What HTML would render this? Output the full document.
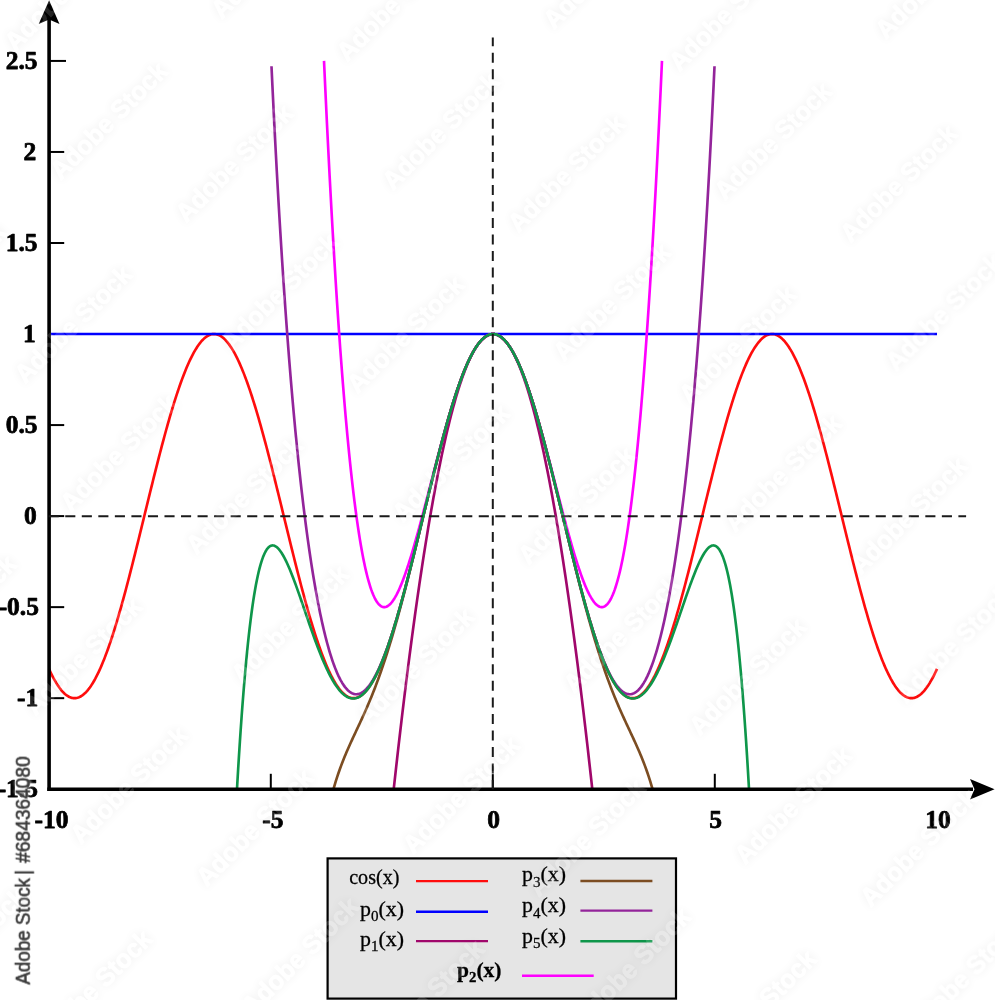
<!DOCTYPE html>
<html><head><meta charset="utf-8"><title>Taylor polynomials of cos(x)</title>
<style>html,body{margin:0;padding:0;background:#fff}svg{display:block}</style></head>
<body>
<svg width="995" height="1000" viewBox="0 0 995 1000">
<defs><g id="wmt" font-family="'Liberation Sans', sans-serif" font-weight="bold" font-size="26px" fill="#fff" stroke="#fff" stroke-width="0.9" stroke-linejoin="round" text-anchor="middle"><text transform="translate(-61.2,-49.1) rotate(-45)" y="7" textLength="153" lengthAdjust="spacingAndGlyphs">Adobe Stock</text><text transform="translate(64.4,-6.7) rotate(-45)" y="7" textLength="153" lengthAdjust="spacingAndGlyphs">Adobe Stock</text><text transform="translate(-51.1,283.0) rotate(-45)" y="7" textLength="153" lengthAdjust="spacingAndGlyphs">Adobe Stock</text><text transform="translate(110.0,122.0) rotate(-45)" y="7" textLength="153" lengthAdjust="spacingAndGlyphs">Adobe Stock</text><text transform="translate(271.0,-39.0) rotate(-45)" y="7" textLength="153" lengthAdjust="spacingAndGlyphs">Adobe Stock</text><text transform="translate(74.5,325.4) rotate(-45)" y="7" textLength="153" lengthAdjust="spacingAndGlyphs">Adobe Stock</text><text transform="translate(235.5,164.4) rotate(-45)" y="7" textLength="153" lengthAdjust="spacingAndGlyphs">Adobe Stock</text><text transform="translate(396.5,3.4) rotate(-45)" y="7" textLength="153" lengthAdjust="spacingAndGlyphs">Adobe Stock</text><text transform="translate(-40.9,615.1) rotate(-45)" y="7" textLength="153" lengthAdjust="spacingAndGlyphs">Adobe Stock</text><text transform="translate(120.1,454.1) rotate(-45)" y="7" textLength="153" lengthAdjust="spacingAndGlyphs">Adobe Stock</text><text transform="translate(281.1,293.1) rotate(-45)" y="7" textLength="153" lengthAdjust="spacingAndGlyphs">Adobe Stock</text><text transform="translate(442.1,132.1) rotate(-45)" y="7" textLength="153" lengthAdjust="spacingAndGlyphs">Adobe Stock</text><text transform="translate(603.1,-28.9) rotate(-45)" y="7" textLength="153" lengthAdjust="spacingAndGlyphs">Adobe Stock</text><text transform="translate(84.6,657.5) rotate(-45)" y="7" textLength="153" lengthAdjust="spacingAndGlyphs">Adobe Stock</text><text transform="translate(245.6,496.5) rotate(-45)" y="7" textLength="153" lengthAdjust="spacingAndGlyphs">Adobe Stock</text><text transform="translate(406.7,335.5) rotate(-45)" y="7" textLength="153" lengthAdjust="spacingAndGlyphs">Adobe Stock</text><text transform="translate(567.7,174.5) rotate(-45)" y="7" textLength="153" lengthAdjust="spacingAndGlyphs">Adobe Stock</text><text transform="translate(728.7,13.5) rotate(-45)" y="7" textLength="153" lengthAdjust="spacingAndGlyphs">Adobe Stock</text><text transform="translate(-30.8,947.2) rotate(-45)" y="7" textLength="153" lengthAdjust="spacingAndGlyphs">Adobe Stock</text><text transform="translate(130.2,786.2) rotate(-45)" y="7" textLength="153" lengthAdjust="spacingAndGlyphs">Adobe Stock</text><text transform="translate(291.2,625.2) rotate(-45)" y="7" textLength="153" lengthAdjust="spacingAndGlyphs">Adobe Stock</text><text transform="translate(452.2,464.2) rotate(-45)" y="7" textLength="153" lengthAdjust="spacingAndGlyphs">Adobe Stock</text><text transform="translate(613.2,303.2) rotate(-45)" y="7" textLength="153" lengthAdjust="spacingAndGlyphs">Adobe Stock</text><text transform="translate(774.2,142.2) rotate(-45)" y="7" textLength="153" lengthAdjust="spacingAndGlyphs">Adobe Stock</text><text transform="translate(935.2,-18.8) rotate(-45)" y="7" textLength="153" lengthAdjust="spacingAndGlyphs">Adobe Stock</text><text transform="translate(94.8,989.7) rotate(-45)" y="7" textLength="153" lengthAdjust="spacingAndGlyphs">Adobe Stock</text><text transform="translate(255.8,828.7) rotate(-45)" y="7" textLength="153" lengthAdjust="spacingAndGlyphs">Adobe Stock</text><text transform="translate(416.8,667.7) rotate(-45)" y="7" textLength="153" lengthAdjust="spacingAndGlyphs">Adobe Stock</text><text transform="translate(577.8,506.6) rotate(-45)" y="7" textLength="153" lengthAdjust="spacingAndGlyphs">Adobe Stock</text><text transform="translate(738.8,345.6) rotate(-45)" y="7" textLength="153" lengthAdjust="spacingAndGlyphs">Adobe Stock</text><text transform="translate(899.8,184.6) rotate(-45)" y="7" textLength="153" lengthAdjust="spacingAndGlyphs">Adobe Stock</text><text transform="translate(1060.8,23.6) rotate(-45)" y="7" textLength="153" lengthAdjust="spacingAndGlyphs">Adobe Stock</text><text transform="translate(301.3,957.4) rotate(-45)" y="7" textLength="153" lengthAdjust="spacingAndGlyphs">Adobe Stock</text><text transform="translate(462.3,796.3) rotate(-45)" y="7" textLength="153" lengthAdjust="spacingAndGlyphs">Adobe Stock</text><text transform="translate(623.3,635.3) rotate(-45)" y="7" textLength="153" lengthAdjust="spacingAndGlyphs">Adobe Stock</text><text transform="translate(784.3,474.3) rotate(-45)" y="7" textLength="153" lengthAdjust="spacingAndGlyphs">Adobe Stock</text><text transform="translate(945.3,313.3) rotate(-45)" y="7" textLength="153" lengthAdjust="spacingAndGlyphs">Adobe Stock</text><text transform="translate(426.9,999.8) rotate(-45)" y="7" textLength="153" lengthAdjust="spacingAndGlyphs">Adobe Stock</text><text transform="translate(587.9,838.8) rotate(-45)" y="7" textLength="153" lengthAdjust="spacingAndGlyphs">Adobe Stock</text><text transform="translate(748.9,677.8) rotate(-45)" y="7" textLength="153" lengthAdjust="spacingAndGlyphs">Adobe Stock</text><text transform="translate(909.9,516.8) rotate(-45)" y="7" textLength="153" lengthAdjust="spacingAndGlyphs">Adobe Stock</text><text transform="translate(633.4,967.5) rotate(-45)" y="7" textLength="153" lengthAdjust="spacingAndGlyphs">Adobe Stock</text><text transform="translate(794.4,806.5) rotate(-45)" y="7" textLength="153" lengthAdjust="spacingAndGlyphs">Adobe Stock</text><text transform="translate(955.4,645.4) rotate(-45)" y="7" textLength="153" lengthAdjust="spacingAndGlyphs">Adobe Stock</text><text transform="translate(759.0,1009.9) rotate(-45)" y="7" textLength="153" lengthAdjust="spacingAndGlyphs">Adobe Stock</text><text transform="translate(920.0,848.9) rotate(-45)" y="7" textLength="153" lengthAdjust="spacingAndGlyphs">Adobe Stock</text><text transform="translate(965.6,977.6) rotate(-45)" y="7" textLength="153" lengthAdjust="spacingAndGlyphs">Adobe Stock</text></g></defs>
<defs><filter id="wm" x="0" y="0" width="995" height="1000" filterUnits="userSpaceOnUse"><feGaussianBlur in="SourceAlpha" stdDeviation="5" result="b"/><feComponentTransfer in="b" result="sh"><feFuncA type="linear" slope="0.062"/></feComponentTransfer><feComposite in="sh" in2="SourceAlpha" operator="out"/></filter><filter id="ga" x="-5%" y="-5%" width="110%" height="110%"><feOffset dx="0" dy="0"/></filter><filter id="glow" x="-30%" y="-30%" width="160%" height="160%"><feGaussianBlur stdDeviation="1.6"/></filter></defs>
<rect width="995" height="1000" fill="#fff"/>
<g stroke="#000" fill="none">
<path d="M49.1,60.93 L66,60.93" stroke-width="2"/>
<path d="M49.1,151.96 L64.2,151.96" stroke-width="2"/>
<path d="M49.1,243.00 L64.2,243.00" stroke-width="2"/>
<path d="M49.1,334.03 L64.2,334.03" stroke-width="2"/>
<path d="M49.1,425.07 L64.2,425.07" stroke-width="2"/>
<path d="M49.1,516.10 L64.2,516.10" stroke-width="2"/>
<path d="M49.1,607.13 L64.2,607.13" stroke-width="2"/>
<path d="M49.1,698.17 L64.2,698.17" stroke-width="2"/>
<path d="M270.80,789.3 L270.80,773.8" stroke-width="2"/>
<path d="M492.80,789.3 L492.80,773.8" stroke-width="2"/>
<path d="M714.80,789.3 L714.80,773.8" stroke-width="2"/>
</g>
<g fill="none" stroke-width="2.65" stroke-linejoin="round">
<path d="M49.00,668.87 L49.89,670.82 L50.78,672.71 L51.66,674.53 L52.55,676.30 L53.44,678.00 L54.33,679.63 L55.22,681.20 L56.10,682.70 L56.99,684.13 L57.88,685.50 L58.77,686.80 L59.66,688.04 L60.54,689.20 L61.43,690.29 L62.32,691.32 L63.21,692.27 L64.10,693.16 L64.98,693.97 L65.87,694.71 L66.76,695.38 L67.65,695.98 L68.54,696.51 L69.42,696.96 L70.31,697.35 L71.20,697.66 L72.09,697.89 L72.98,698.06 L73.86,698.15 L74.75,698.17 L75.64,698.11 L76.53,697.99 L77.42,697.79 L78.30,697.52 L79.19,697.17 L80.08,696.75 L80.97,696.27 L81.86,695.70 L82.74,695.07 L83.63,694.37 L84.52,693.59 L85.41,692.74 L86.30,691.82 L87.18,690.84 L88.07,689.78 L88.96,688.65 L89.85,687.46 L90.74,686.19 L91.62,684.86 L92.51,683.46 L93.40,681.99 L94.29,680.46 L95.18,678.86 L96.06,677.19 L96.95,675.46 L97.84,673.67 L98.73,671.81 L99.62,669.90 L100.50,667.92 L101.39,665.88 L102.28,663.78 L103.17,661.62 L104.06,659.40 L104.94,657.12 L105.83,654.79 L106.72,652.41 L107.61,649.96 L108.50,647.47 L109.38,644.92 L110.27,642.32 L111.16,639.67 L112.05,636.98 L112.94,634.23 L113.82,631.43 L114.71,628.59 L115.60,625.71 L116.49,622.78 L117.38,619.81 L118.26,616.79 L119.15,613.74 L120.04,610.65 L120.93,607.52 L121.82,604.35 L122.70,601.15 L123.59,597.91 L124.48,594.64 L125.37,591.34 L126.26,588.01 L127.14,584.65 L128.03,581.26 L128.92,577.85 L129.81,574.41 L130.70,570.95 L131.58,567.47 L132.47,563.96 L133.36,560.44 L134.25,556.90 L135.14,553.34 L136.02,549.77 L136.91,546.19 L137.80,542.59 L138.69,538.98 L139.58,535.37 L140.46,531.74 L141.35,528.11 L142.24,524.48 L143.13,520.84 L144.02,517.20 L144.90,513.55 L145.79,509.91 L146.68,506.28 L147.57,502.64 L148.46,499.01 L149.34,495.39 L150.23,491.78 L151.12,488.18 L152.01,484.58 L152.90,481.00 L153.78,477.44 L154.67,473.89 L155.56,470.35 L156.45,466.84 L157.34,463.34 L158.22,459.87 L159.11,456.42 L160.00,452.99 L160.89,449.59 L161.78,446.21 L162.66,442.86 L163.55,439.54 L164.44,436.25 L165.33,433.00 L166.22,429.77 L167.10,426.59 L167.99,423.43 L168.88,420.32 L169.77,417.24 L170.66,414.20 L171.54,411.20 L172.43,408.25 L173.32,405.34 L174.21,402.47 L175.10,399.65 L175.98,396.87 L176.87,394.14 L177.76,391.46 L178.65,388.84 L179.54,386.26 L180.42,383.73 L181.31,381.26 L182.20,378.84 L183.09,376.47 L183.98,374.16 L184.86,371.91 L185.75,369.72 L186.64,367.58 L187.53,365.50 L188.42,363.49 L189.30,361.53 L190.19,359.64 L191.08,357.81 L191.97,356.04 L192.86,354.34 L193.74,352.70 L194.63,351.13 L195.52,349.62 L196.41,348.18 L197.30,346.80 L198.18,345.50 L199.07,344.26 L199.96,343.09 L200.85,341.99 L201.74,340.96 L202.62,340.00 L203.51,339.11 L204.40,338.29 L205.29,337.54 L206.18,336.87 L207.06,336.26 L207.95,335.73 L208.84,335.27 L209.73,334.88 L210.62,334.57 L211.50,334.32 L212.39,334.15 L213.28,334.06 L214.17,334.03 L215.06,334.08 L215.94,334.20 L216.83,334.39 L217.72,334.66 L218.61,335.00 L219.50,335.41 L220.38,335.89 L221.27,336.45 L222.16,337.08 L223.05,337.78 L223.94,338.55 L224.82,339.39 L225.71,340.30 L226.60,341.28 L227.49,342.33 L228.38,343.46 L229.26,344.65 L230.15,345.91 L231.04,347.23 L231.93,348.63 L232.82,350.09 L233.70,351.62 L234.59,353.21 L235.48,354.87 L236.37,356.60 L237.26,358.39 L238.14,360.24 L239.03,362.15 L239.92,364.12 L240.81,366.16 L241.70,368.25 L242.58,370.41 L243.47,372.62 L244.36,374.89 L245.25,377.22 L246.14,379.60 L247.02,382.04 L247.91,384.53 L248.80,387.07 L249.69,389.67 L250.58,392.31 L251.46,395.01 L252.35,397.75 L253.24,400.54 L254.13,403.38 L255.02,406.26 L255.90,409.19 L256.79,412.15 L257.68,415.17 L258.57,418.22 L259.46,421.31 L260.34,424.43 L261.23,427.60 L262.12,430.80 L263.01,434.03 L263.90,437.30 L264.78,440.60 L265.67,443.92 L266.56,447.28 L267.45,450.67 L268.34,454.08 L269.22,457.51 L270.11,460.97 L271.00,464.45 L271.89,467.96 L272.78,471.48 L273.66,475.02 L274.55,478.57 L275.44,482.14 L276.33,485.73 L277.22,489.32 L278.10,492.93 L278.99,496.55 L279.88,500.17 L280.77,503.80 L281.66,507.43 L282.54,511.07 L283.43,514.71 L284.32,518.36 L285.21,522.00 L286.10,525.63 L286.98,529.27 L287.87,532.90 L288.76,536.52 L289.65,540.13 L290.54,543.74 L291.42,547.33 L292.31,550.91 L293.20,554.48 L294.09,558.03 L294.98,561.57 L295.86,565.08 L296.75,568.58 L297.64,572.06 L298.53,575.51 L299.42,578.94 L300.30,582.34 L301.19,585.72 L302.08,589.07 L302.97,592.39 L303.86,595.69 L304.74,598.94 L305.63,602.17 L306.52,605.36 L307.41,608.52 L308.30,611.64 L309.18,614.72 L310.07,617.76 L310.96,620.76 L311.85,623.72 L312.74,626.63 L313.62,629.50 L314.51,632.33 L315.40,635.11 L316.29,637.84 L317.18,640.52 L318.06,643.16 L318.95,645.74 L319.84,648.27 L320.73,650.75 L321.62,653.17 L322.50,655.54 L323.39,657.85 L324.28,660.11 L325.17,662.31 L326.06,664.45 L326.94,666.53 L327.83,668.55 L328.72,670.51 L329.61,672.41 L330.50,674.25 L331.38,676.02 L332.27,677.73 L333.16,679.37 L334.05,680.95 L334.94,682.46 L335.82,683.91 L336.71,685.29 L337.60,686.60 L338.49,687.84 L339.38,689.02 L340.26,690.12 L341.15,691.16 L342.04,692.12 L342.93,693.02 L343.82,693.84 L344.70,694.60 L345.59,695.28 L346.48,695.89 L347.37,696.43 L348.26,696.90 L349.14,697.29 L350.03,697.61 L350.92,697.86 L351.81,698.04 L352.70,698.14 L353.58,698.17 L354.47,698.13 L355.36,698.01 L356.25,697.82 L357.14,697.56 L358.02,697.23 L358.91,696.83 L359.80,696.35 L360.69,695.80 L361.58,695.18 L362.46,694.48 L363.35,693.72 L364.24,692.88 L365.13,691.98 L366.02,691.00 L366.90,689.95 L367.79,688.84 L368.68,687.65 L369.57,686.40 L370.46,685.07 L371.34,683.68 L372.23,682.23 L373.12,680.70 L374.01,679.12 L374.90,677.46 L375.78,675.74 L376.67,673.96 L377.56,672.11 L378.45,670.21 L379.34,668.24 L380.22,666.20 L381.11,664.11 L382.00,661.96 L382.89,659.76 L383.78,657.49 L384.66,655.17 L385.55,652.79 L386.44,650.36 L387.33,647.87 L388.22,645.33 L389.10,642.74 L389.99,640.10 L390.88,637.41 L391.77,634.67 L392.66,631.88 L393.54,629.05 L394.43,626.17 L395.32,623.25 L396.21,620.28 L397.10,617.28 L397.98,614.23 L398.87,611.14 L399.76,608.02 L400.65,604.86 L401.54,601.66 L402.42,598.43 L403.31,595.16 L404.20,591.87 L405.09,588.54 L405.98,585.19 L406.86,581.80 L407.75,578.40 L408.64,574.96 L409.53,571.50 L410.42,568.02 L411.30,564.52 L412.19,561.00 L413.08,557.47 L413.97,553.91 L414.86,550.34 L415.74,546.76 L416.63,543.16 L417.52,539.56 L418.41,535.94 L419.30,532.32 L420.18,528.69 L421.07,525.05 L421.96,521.42 L422.85,517.78 L423.74,514.13 L424.62,510.49 L425.51,506.86 L426.40,503.22 L427.29,499.59 L428.18,495.97 L429.06,492.35 L429.95,488.75 L430.84,485.15 L431.73,481.57 L432.62,478.00 L433.50,474.45 L434.39,470.91 L435.28,467.40 L436.17,463.90 L437.06,460.42 L437.94,456.96 L438.83,453.53 L439.72,450.13 L440.61,446.75 L441.50,443.39 L442.38,440.07 L443.27,436.78 L444.16,433.51 L445.05,430.29 L445.94,427.09 L446.82,423.93 L447.71,420.81 L448.60,417.73 L449.49,414.68 L450.38,411.68 L451.26,408.72 L452.15,405.80 L453.04,402.92 L453.93,400.09 L454.82,397.31 L455.70,394.58 L456.59,391.89 L457.48,389.25 L458.37,386.66 L459.26,384.13 L460.14,381.65 L461.03,379.22 L461.92,376.85 L462.81,374.53 L463.70,372.27 L464.58,370.06 L465.47,367.92 L466.36,365.83 L467.25,363.81 L468.14,361.84 L469.02,359.94 L469.91,358.10 L470.80,356.32 L471.69,354.60 L472.58,352.96 L473.46,351.37 L474.35,349.85 L475.24,348.40 L476.13,347.02 L477.02,345.70 L477.90,344.45 L478.79,343.27 L479.68,342.16 L480.57,341.12 L481.46,340.15 L482.34,339.25 L483.23,338.42 L484.12,337.66 L485.01,336.97 L485.90,336.36 L486.78,335.81 L487.67,335.34 L488.56,334.94 L489.45,334.61 L490.34,334.36 L491.22,334.18 L492.11,334.07 L493.00,334.03 L493.89,334.07 L494.78,334.18 L495.66,334.36 L496.55,334.61 L497.44,334.94 L498.33,335.34 L499.22,335.81 L500.10,336.36 L500.99,336.97 L501.88,337.66 L502.77,338.42 L503.66,339.25 L504.54,340.15 L505.43,341.12 L506.32,342.16 L507.21,343.27 L508.10,344.45 L508.98,345.70 L509.87,347.02 L510.76,348.40 L511.65,349.85 L512.54,351.37 L513.42,352.96 L514.31,354.60 L515.20,356.32 L516.09,358.10 L516.98,359.94 L517.86,361.84 L518.75,363.81 L519.64,365.83 L520.53,367.92 L521.42,370.06 L522.30,372.27 L523.19,374.53 L524.08,376.85 L524.97,379.22 L525.86,381.65 L526.74,384.13 L527.63,386.66 L528.52,389.25 L529.41,391.89 L530.30,394.58 L531.18,397.31 L532.07,400.09 L532.96,402.92 L533.85,405.80 L534.74,408.72 L535.62,411.68 L536.51,414.68 L537.40,417.73 L538.29,420.81 L539.18,423.93 L540.06,427.09 L540.95,430.29 L541.84,433.51 L542.73,436.78 L543.62,440.07 L544.50,443.39 L545.39,446.75 L546.28,450.13 L547.17,453.53 L548.06,456.96 L548.94,460.42 L549.83,463.90 L550.72,467.40 L551.61,470.91 L552.50,474.45 L553.38,478.00 L554.27,481.57 L555.16,485.15 L556.05,488.75 L556.94,492.35 L557.82,495.97 L558.71,499.59 L559.60,503.22 L560.49,506.86 L561.38,510.49 L562.26,514.13 L563.15,517.78 L564.04,521.42 L564.93,525.05 L565.82,528.69 L566.70,532.32 L567.59,535.94 L568.48,539.56 L569.37,543.16 L570.26,546.76 L571.14,550.34 L572.03,553.91 L572.92,557.47 L573.81,561.00 L574.70,564.52 L575.58,568.02 L576.47,571.50 L577.36,574.96 L578.25,578.40 L579.14,581.80 L580.02,585.19 L580.91,588.54 L581.80,591.87 L582.69,595.16 L583.58,598.43 L584.46,601.66 L585.35,604.86 L586.24,608.02 L587.13,611.14 L588.02,614.23 L588.90,617.28 L589.79,620.28 L590.68,623.25 L591.57,626.17 L592.46,629.05 L593.34,631.88 L594.23,634.67 L595.12,637.41 L596.01,640.10 L596.90,642.74 L597.78,645.33 L598.67,647.87 L599.56,650.36 L600.45,652.79 L601.34,655.17 L602.22,657.49 L603.11,659.76 L604.00,661.96 L604.89,664.11 L605.78,666.20 L606.66,668.24 L607.55,670.21 L608.44,672.11 L609.33,673.96 L610.22,675.74 L611.10,677.46 L611.99,679.12 L612.88,680.70 L613.77,682.23 L614.66,683.68 L615.54,685.07 L616.43,686.40 L617.32,687.65 L618.21,688.84 L619.10,689.95 L619.98,691.00 L620.87,691.98 L621.76,692.88 L622.65,693.72 L623.54,694.48 L624.42,695.18 L625.31,695.80 L626.20,696.35 L627.09,696.83 L627.98,697.23 L628.86,697.56 L629.75,697.82 L630.64,698.01 L631.53,698.13 L632.42,698.17 L633.30,698.14 L634.19,698.04 L635.08,697.86 L635.97,697.61 L636.86,697.29 L637.74,696.90 L638.63,696.43 L639.52,695.89 L640.41,695.28 L641.30,694.60 L642.18,693.84 L643.07,693.02 L643.96,692.12 L644.85,691.16 L645.74,690.12 L646.62,689.02 L647.51,687.84 L648.40,686.60 L649.29,685.29 L650.18,683.91 L651.06,682.46 L651.95,680.95 L652.84,679.37 L653.73,677.73 L654.62,676.02 L655.50,674.25 L656.39,672.41 L657.28,670.51 L658.17,668.55 L659.06,666.53 L659.94,664.45 L660.83,662.31 L661.72,660.11 L662.61,657.85 L663.50,655.54 L664.38,653.17 L665.27,650.75 L666.16,648.27 L667.05,645.74 L667.94,643.16 L668.82,640.52 L669.71,637.84 L670.60,635.11 L671.49,632.33 L672.38,629.50 L673.26,626.63 L674.15,623.72 L675.04,620.76 L675.93,617.76 L676.82,614.72 L677.70,611.64 L678.59,608.52 L679.48,605.36 L680.37,602.17 L681.26,598.94 L682.14,595.69 L683.03,592.39 L683.92,589.07 L684.81,585.72 L685.70,582.34 L686.58,578.94 L687.47,575.51 L688.36,572.06 L689.25,568.58 L690.14,565.08 L691.02,561.57 L691.91,558.03 L692.80,554.48 L693.69,550.91 L694.58,547.33 L695.46,543.74 L696.35,540.13 L697.24,536.52 L698.13,532.90 L699.02,529.27 L699.90,525.63 L700.79,522.00 L701.68,518.36 L702.57,514.71 L703.46,511.07 L704.34,507.43 L705.23,503.80 L706.12,500.17 L707.01,496.55 L707.90,492.93 L708.78,489.32 L709.67,485.73 L710.56,482.14 L711.45,478.57 L712.34,475.02 L713.22,471.48 L714.11,467.96 L715.00,464.45 L715.89,460.97 L716.78,457.51 L717.66,454.08 L718.55,450.67 L719.44,447.28 L720.33,443.92 L721.22,440.60 L722.10,437.30 L722.99,434.03 L723.88,430.80 L724.77,427.60 L725.66,424.43 L726.54,421.31 L727.43,418.22 L728.32,415.17 L729.21,412.15 L730.10,409.19 L730.98,406.26 L731.87,403.38 L732.76,400.54 L733.65,397.75 L734.54,395.01 L735.42,392.31 L736.31,389.67 L737.20,387.07 L738.09,384.53 L738.98,382.04 L739.86,379.60 L740.75,377.22 L741.64,374.89 L742.53,372.62 L743.42,370.41 L744.30,368.25 L745.19,366.16 L746.08,364.12 L746.97,362.15 L747.86,360.24 L748.74,358.39 L749.63,356.60 L750.52,354.87 L751.41,353.21 L752.30,351.62 L753.18,350.09 L754.07,348.63 L754.96,347.23 L755.85,345.91 L756.74,344.65 L757.62,343.46 L758.51,342.33 L759.40,341.28 L760.29,340.30 L761.18,339.39 L762.06,338.55 L762.95,337.78 L763.84,337.08 L764.73,336.45 L765.62,335.89 L766.50,335.41 L767.39,335.00 L768.28,334.66 L769.17,334.39 L770.06,334.20 L770.94,334.08 L771.83,334.03 L772.72,334.06 L773.61,334.15 L774.50,334.32 L775.38,334.57 L776.27,334.88 L777.16,335.27 L778.05,335.73 L778.94,336.26 L779.82,336.87 L780.71,337.54 L781.60,338.29 L782.49,339.11 L783.38,340.00 L784.26,340.96 L785.15,341.99 L786.04,343.09 L786.93,344.26 L787.82,345.50 L788.70,346.80 L789.59,348.18 L790.48,349.62 L791.37,351.13 L792.26,352.70 L793.14,354.34 L794.03,356.04 L794.92,357.81 L795.81,359.64 L796.70,361.53 L797.58,363.49 L798.47,365.50 L799.36,367.58 L800.25,369.72 L801.14,371.91 L802.02,374.16 L802.91,376.47 L803.80,378.84 L804.69,381.26 L805.58,383.73 L806.46,386.26 L807.35,388.84 L808.24,391.46 L809.13,394.14 L810.02,396.87 L810.90,399.65 L811.79,402.47 L812.68,405.34 L813.57,408.25 L814.46,411.20 L815.34,414.20 L816.23,417.24 L817.12,420.32 L818.01,423.43 L818.90,426.59 L819.78,429.77 L820.67,433.00 L821.56,436.25 L822.45,439.54 L823.34,442.86 L824.22,446.21 L825.11,449.59 L826.00,452.99 L826.89,456.42 L827.78,459.87 L828.66,463.34 L829.55,466.84 L830.44,470.35 L831.33,473.89 L832.22,477.44 L833.10,481.00 L833.99,484.58 L834.88,488.18 L835.77,491.78 L836.66,495.39 L837.54,499.01 L838.43,502.64 L839.32,506.28 L840.21,509.91 L841.10,513.55 L841.98,517.20 L842.87,520.84 L843.76,524.48 L844.65,528.11 L845.54,531.74 L846.42,535.37 L847.31,538.98 L848.20,542.59 L849.09,546.19 L849.98,549.77 L850.86,553.34 L851.75,556.90 L852.64,560.44 L853.53,563.96 L854.42,567.47 L855.30,570.95 L856.19,574.41 L857.08,577.85 L857.97,581.26 L858.86,584.65 L859.74,588.01 L860.63,591.34 L861.52,594.64 L862.41,597.91 L863.30,601.15 L864.18,604.35 L865.07,607.52 L865.96,610.65 L866.85,613.74 L867.74,616.79 L868.62,619.81 L869.51,622.78 L870.40,625.71 L871.29,628.59 L872.18,631.43 L873.06,634.23 L873.95,636.98 L874.84,639.67 L875.73,642.32 L876.62,644.92 L877.50,647.47 L878.39,649.96 L879.28,652.41 L880.17,654.79 L881.06,657.12 L881.94,659.40 L882.83,661.62 L883.72,663.78 L884.61,665.88 L885.50,667.92 L886.38,669.90 L887.27,671.81 L888.16,673.67 L889.05,675.46 L889.94,677.19 L890.82,678.86 L891.71,680.46 L892.60,681.99 L893.49,683.46 L894.38,684.86 L895.26,686.19 L896.15,687.46 L897.04,688.65 L897.93,689.78 L898.82,690.84 L899.70,691.82 L900.59,692.74 L901.48,693.59 L902.37,694.37 L903.26,695.07 L904.14,695.70 L905.03,696.27 L905.92,696.75 L906.81,697.17 L907.70,697.52 L908.58,697.79 L909.47,697.99 L910.36,698.11 L911.25,698.17 L912.14,698.15 L913.02,698.06 L913.91,697.89 L914.80,697.66 L915.69,697.35 L916.58,696.96 L917.46,696.51 L918.35,695.98 L919.24,695.38 L920.13,694.71 L921.02,693.97 L921.90,693.16 L922.79,692.27 L923.68,691.32 L924.57,690.29 L925.46,689.20 L926.34,688.04 L927.23,686.80 L928.12,685.50 L929.01,684.13 L929.90,682.70 L930.78,681.20 L931.67,679.63 L932.56,678.00 L933.45,676.30 L934.34,674.53 L935.22,672.71 L936.11,670.82 L937.00,668.87" stroke="#ff0d0d"/>
<path d="M49.00,334.03 L937.00,334.03" stroke="#0000ff"/>
<path d="M393.72,789.21 L394.43,782.69 L395.32,774.64 L396.21,766.66 L397.10,758.76 L397.98,750.93 L398.87,743.18 L399.76,735.49 L400.65,727.88 L401.54,720.35 L402.42,712.88 L403.31,705.49 L404.20,698.17 L405.09,690.92 L405.98,683.75 L406.86,676.65 L407.75,669.62 L408.64,662.67 L409.53,655.78 L410.42,648.97 L411.30,642.24 L412.19,635.57 L413.08,628.98 L413.97,622.47 L414.86,616.02 L415.74,609.65 L416.63,603.35 L417.52,597.12 L418.41,590.97 L419.30,584.89 L420.18,578.88 L421.07,572.94 L421.96,567.08 L422.85,561.29 L423.74,555.57 L424.62,549.93 L425.51,544.36 L426.40,538.86 L427.29,533.43 L428.18,528.08 L429.06,522.80 L429.95,517.59 L430.84,512.46 L431.73,507.40 L432.62,502.41 L433.50,497.49 L434.39,492.65 L435.28,487.88 L436.17,483.18 L437.06,478.56 L437.94,474.01 L438.83,469.53 L439.72,465.12 L440.61,460.79 L441.50,456.53 L442.38,452.34 L443.27,448.22 L444.16,444.18 L445.05,440.21 L445.94,436.32 L446.82,432.49 L447.71,428.74 L448.60,425.07 L449.49,421.46 L450.38,417.93 L451.26,414.47 L452.15,411.08 L453.04,407.77 L453.93,404.53 L454.82,401.36 L455.70,398.26 L456.59,395.24 L457.48,392.29 L458.37,389.42 L459.26,386.61 L460.14,383.88 L461.03,381.22 L461.92,378.64 L462.81,376.12 L463.70,373.68 L464.58,371.32 L465.47,369.02 L466.36,366.80 L467.25,364.65 L468.14,362.58 L469.02,360.58 L469.91,358.65 L470.80,356.79 L471.69,355.00 L472.58,353.29 L473.46,351.65 L474.35,350.09 L475.24,348.60 L476.13,347.18 L477.02,345.83 L477.90,344.55 L478.79,343.35 L479.68,342.22 L480.57,341.17 L481.46,340.18 L482.34,339.27 L483.23,338.44 L484.12,337.67 L485.01,336.98 L485.90,336.36 L486.78,335.81 L487.67,335.34 L488.56,334.94 L489.45,334.61 L490.34,334.36 L491.22,334.18 L492.11,334.07 L493.00,334.03 L493.89,334.07 L494.78,334.18 L495.66,334.36 L496.55,334.61 L497.44,334.94 L498.33,335.34 L499.22,335.81 L500.10,336.36 L500.99,336.98 L501.88,337.67 L502.77,338.44 L503.66,339.27 L504.54,340.18 L505.43,341.17 L506.32,342.22 L507.21,343.35 L508.10,344.55 L508.98,345.83 L509.87,347.18 L510.76,348.60 L511.65,350.09 L512.54,351.65 L513.42,353.29 L514.31,355.00 L515.20,356.79 L516.09,358.65 L516.98,360.58 L517.86,362.58 L518.75,364.65 L519.64,366.80 L520.53,369.02 L521.42,371.32 L522.30,373.68 L523.19,376.12 L524.08,378.64 L524.97,381.22 L525.86,383.88 L526.74,386.61 L527.63,389.42 L528.52,392.29 L529.41,395.24 L530.30,398.26 L531.18,401.36 L532.07,404.53 L532.96,407.77 L533.85,411.08 L534.74,414.47 L535.62,417.93 L536.51,421.46 L537.40,425.07 L538.29,428.74 L539.18,432.49 L540.06,436.32 L540.95,440.21 L541.84,444.18 L542.73,448.22 L543.62,452.34 L544.50,456.53 L545.39,460.79 L546.28,465.12 L547.17,469.53 L548.06,474.01 L548.94,478.56 L549.83,483.18 L550.72,487.88 L551.61,492.65 L552.50,497.49 L553.38,502.41 L554.27,507.40 L555.16,512.46 L556.05,517.59 L556.94,522.80 L557.82,528.08 L558.71,533.43 L559.60,538.86 L560.49,544.36 L561.38,549.93 L562.26,555.57 L563.15,561.29 L564.04,567.08 L564.93,572.94 L565.82,578.88 L566.70,584.89 L567.59,590.97 L568.48,597.12 L569.37,603.35 L570.26,609.65 L571.14,616.02 L572.03,622.47 L572.92,628.98 L573.81,635.57 L574.70,642.24 L575.58,648.97 L576.47,655.78 L577.36,662.67 L578.25,669.62 L579.14,676.65 L580.02,683.75 L580.91,690.92 L581.80,698.17 L582.69,705.49 L583.58,712.88 L584.46,720.35 L585.35,727.88 L586.24,735.49 L587.13,743.18 L588.02,750.93 L588.90,758.76 L589.79,766.66 L590.68,774.64 L591.57,782.69 L592.28,789.21" stroke="#a0076b"/>
<path d="M324.02,60.93 L324.28,66.74 L325.17,85.98 L326.06,104.77 L326.94,123.12 L327.83,141.03 L328.72,158.51 L329.61,175.57 L330.50,192.21 L331.38,208.43 L332.27,224.24 L333.16,239.64 L334.05,254.65 L334.94,269.27 L335.82,283.49 L336.71,297.33 L337.60,310.80 L338.49,323.89 L339.38,336.61 L340.26,348.97 L341.15,360.97 L342.04,372.62 L342.93,383.92 L343.82,394.87 L344.70,405.49 L345.59,415.78 L346.48,425.73 L347.37,435.36 L348.26,444.68 L349.14,453.68 L350.03,462.37 L350.92,470.75 L351.81,478.84 L352.70,486.63 L353.58,494.13 L354.47,501.34 L355.36,508.27 L356.25,514.92 L357.14,521.31 L358.02,527.42 L358.91,533.27 L359.80,538.86 L360.69,544.19 L361.58,549.28 L362.46,554.12 L363.35,558.71 L364.24,563.07 L365.13,567.20 L366.02,571.10 L366.90,574.77 L367.79,578.22 L368.68,581.45 L369.57,584.47 L370.46,587.28 L371.34,589.89 L372.23,592.30 L373.12,594.51 L374.01,596.53 L374.90,598.36 L375.78,600.00 L376.67,601.47 L377.56,602.75 L378.45,603.87 L379.34,604.81 L380.22,605.59 L381.11,606.20 L382.00,606.66 L382.89,606.96 L383.78,607.11 L384.66,607.12 L385.55,606.98 L386.44,606.70 L387.33,606.28 L388.22,605.73 L389.10,605.05 L389.99,604.24 L390.88,603.31 L391.77,602.26 L392.66,601.09 L393.54,599.81 L394.43,598.42 L395.32,596.93 L396.21,595.33 L397.10,593.63 L397.98,591.83 L398.87,589.94 L399.76,587.96 L400.65,585.89 L401.54,583.73 L402.42,581.50 L403.31,579.18 L404.20,576.79 L405.09,574.33 L405.98,571.79 L406.86,569.19 L407.75,566.53 L408.64,563.80 L409.53,561.02 L410.42,558.18 L411.30,555.28 L412.19,552.34 L413.08,549.35 L413.97,546.31 L414.86,543.23 L415.74,540.11 L416.63,536.95 L417.52,533.76 L418.41,530.54 L419.30,527.28 L420.18,524.00 L421.07,520.69 L421.96,517.36 L422.85,514.01 L423.74,510.64 L424.62,507.26 L425.51,503.86 L426.40,500.45 L427.29,497.04 L428.18,493.61 L429.06,490.18 L429.95,486.75 L430.84,483.32 L431.73,479.88 L432.62,476.46 L433.50,473.03 L434.39,469.62 L435.28,466.21 L436.17,462.82 L437.06,459.44 L437.94,456.07 L438.83,452.72 L439.72,449.39 L440.61,446.08 L441.50,442.79 L442.38,439.53 L443.27,436.29 L444.16,433.08 L445.05,429.89 L445.94,426.74 L446.82,423.62 L447.71,420.53 L448.60,417.48 L449.49,414.46 L450.38,411.48 L451.26,408.55 L452.15,405.65 L453.04,402.79 L453.93,399.98 L454.82,397.21 L455.70,394.49 L456.59,391.81 L457.48,389.19 L458.37,386.61 L459.26,384.08 L460.14,381.61 L461.03,379.18 L461.92,376.82 L462.81,374.50 L463.70,372.25 L464.58,370.05 L465.47,367.90 L466.36,365.82 L467.25,363.80 L468.14,361.83 L469.02,359.93 L469.91,358.09 L470.80,356.31 L471.69,354.60 L472.58,352.95 L473.46,351.37 L474.35,349.85 L475.24,348.40 L476.13,347.02 L477.02,345.70 L477.90,344.45 L478.79,343.27 L479.68,342.16 L480.57,341.12 L481.46,340.15 L482.34,339.25 L483.23,338.42 L484.12,337.66 L485.01,336.97 L485.90,336.36 L486.78,335.81 L487.67,335.34 L488.56,334.94 L489.45,334.61 L490.34,334.36 L491.22,334.18 L492.11,334.07 L493.00,334.03 L493.89,334.07 L494.78,334.18 L495.66,334.36 L496.55,334.61 L497.44,334.94 L498.33,335.34 L499.22,335.81 L500.10,336.36 L500.99,336.97 L501.88,337.66 L502.77,338.42 L503.66,339.25 L504.54,340.15 L505.43,341.12 L506.32,342.16 L507.21,343.27 L508.10,344.45 L508.98,345.70 L509.87,347.02 L510.76,348.40 L511.65,349.85 L512.54,351.37 L513.42,352.95 L514.31,354.60 L515.20,356.31 L516.09,358.09 L516.98,359.93 L517.86,361.83 L518.75,363.80 L519.64,365.82 L520.53,367.90 L521.42,370.05 L522.30,372.25 L523.19,374.50 L524.08,376.82 L524.97,379.18 L525.86,381.61 L526.74,384.08 L527.63,386.61 L528.52,389.19 L529.41,391.81 L530.30,394.49 L531.18,397.21 L532.07,399.98 L532.96,402.79 L533.85,405.65 L534.74,408.55 L535.62,411.48 L536.51,414.46 L537.40,417.48 L538.29,420.53 L539.18,423.62 L540.06,426.74 L540.95,429.89 L541.84,433.08 L542.73,436.29 L543.62,439.53 L544.50,442.79 L545.39,446.08 L546.28,449.39 L547.17,452.72 L548.06,456.07 L548.94,459.44 L549.83,462.82 L550.72,466.21 L551.61,469.62 L552.50,473.03 L553.38,476.46 L554.27,479.88 L555.16,483.32 L556.05,486.75 L556.94,490.18 L557.82,493.61 L558.71,497.04 L559.60,500.45 L560.49,503.86 L561.38,507.26 L562.26,510.64 L563.15,514.01 L564.04,517.36 L564.93,520.69 L565.82,524.00 L566.70,527.28 L567.59,530.54 L568.48,533.76 L569.37,536.95 L570.26,540.11 L571.14,543.23 L572.03,546.31 L572.92,549.35 L573.81,552.34 L574.70,555.28 L575.58,558.18 L576.47,561.02 L577.36,563.80 L578.25,566.53 L579.14,569.19 L580.02,571.79 L580.91,574.33 L581.80,576.79 L582.69,579.18 L583.58,581.50 L584.46,583.73 L585.35,585.89 L586.24,587.96 L587.13,589.94 L588.02,591.83 L588.90,593.63 L589.79,595.33 L590.68,596.93 L591.57,598.42 L592.46,599.81 L593.34,601.09 L594.23,602.26 L595.12,603.31 L596.01,604.24 L596.90,605.05 L597.78,605.73 L598.67,606.28 L599.56,606.70 L600.45,606.98 L601.34,607.12 L602.22,607.11 L603.11,606.96 L604.00,606.66 L604.89,606.20 L605.78,605.59 L606.66,604.81 L607.55,603.87 L608.44,602.75 L609.33,601.47 L610.22,600.00 L611.10,598.36 L611.99,596.53 L612.88,594.51 L613.77,592.30 L614.66,589.89 L615.54,587.28 L616.43,584.47 L617.32,581.45 L618.21,578.22 L619.10,574.77 L619.98,571.10 L620.87,567.20 L621.76,563.07 L622.65,558.71 L623.54,554.12 L624.42,549.28 L625.31,544.19 L626.20,538.86 L627.09,533.27 L627.98,527.42 L628.86,521.31 L629.75,514.92 L630.64,508.27 L631.53,501.34 L632.42,494.13 L633.30,486.63 L634.19,478.84 L635.08,470.75 L635.97,462.37 L636.86,453.68 L637.74,444.68 L638.63,435.36 L639.52,425.73 L640.41,415.78 L641.30,405.49 L642.18,394.87 L643.07,383.92 L643.96,372.62 L644.85,360.97 L645.74,348.97 L646.62,336.61 L647.51,323.89 L648.40,310.80 L649.29,297.33 L650.18,283.49 L651.06,269.27 L651.95,254.65 L652.84,239.64 L653.73,224.24 L654.62,208.43 L655.50,192.21 L656.39,175.57 L657.28,158.51 L658.17,141.03 L659.06,123.12 L659.94,104.77 L660.83,85.98 L661.72,66.74 L661.98,60.93" stroke="#ff00ff"/>
<path d="M333.41,789.21 L334.05,787.01 L334.94,784.03 L335.82,781.14 L336.71,778.35 L337.60,775.65 L338.49,773.03 L339.38,770.48 L340.26,768.01 L341.15,765.60 L342.04,763.26 L342.93,760.97 L343.82,758.74 L344.70,756.55 L345.59,754.41 L346.48,752.31 L347.37,750.25 L348.26,748.21 L349.14,746.21 L350.03,744.23 L350.92,742.27 L351.81,740.34 L352.70,738.41 L353.58,736.50 L354.47,734.60 L355.36,732.70 L356.25,730.80 L357.14,728.91 L358.02,727.01 L358.91,725.11 L359.80,723.20 L360.69,721.29 L361.58,719.36 L362.46,717.42 L363.35,715.46 L364.24,713.49 L365.13,711.50 L366.02,709.48 L366.90,707.45 L367.79,705.39 L368.68,703.31 L369.57,701.20 L370.46,699.06 L371.34,696.90 L372.23,694.70 L373.12,692.48 L374.01,690.22 L374.90,687.94 L375.78,685.61 L376.67,683.26 L377.56,680.87 L378.45,678.45 L379.34,675.99 L380.22,673.49 L381.11,670.96 L382.00,668.40 L382.89,665.80 L383.78,663.16 L384.66,660.48 L385.55,657.77 L386.44,655.02 L387.33,652.24 L388.22,649.42 L389.10,646.56 L389.99,643.67 L390.88,640.75 L391.77,637.78 L392.66,634.79 L393.54,631.76 L394.43,628.69 L395.32,625.60 L396.21,622.47 L397.10,619.31 L397.98,616.12 L398.87,612.90 L399.76,609.64 L400.65,606.36 L401.54,603.06 L402.42,599.72 L403.31,596.36 L404.20,592.97 L405.09,589.56 L405.98,586.13 L406.86,582.67 L407.75,579.20 L408.64,575.70 L409.53,572.18 L410.42,568.65 L411.30,565.10 L412.19,561.53 L413.08,557.95 L413.97,554.35 L414.86,550.74 L415.74,547.13 L416.63,543.50 L417.52,539.86 L418.41,536.22 L419.30,532.57 L420.18,528.92 L421.07,525.26 L421.96,521.60 L422.85,517.95 L423.74,514.29 L424.62,510.63 L425.51,506.98 L426.40,503.33 L427.29,499.69 L428.18,496.06 L429.06,492.44 L429.95,488.82 L430.84,485.22 L431.73,481.63 L432.62,478.06 L433.50,474.50 L434.39,470.96 L435.28,467.43 L436.17,463.93 L437.06,460.45 L437.94,456.99 L438.83,453.55 L439.72,450.14 L440.61,446.76 L441.50,443.41 L442.38,440.08 L443.27,436.79 L444.16,433.52 L445.05,430.29 L445.94,427.10 L446.82,423.94 L447.71,420.82 L448.60,417.73 L449.49,414.69 L450.38,411.68 L451.26,408.72 L452.15,405.80 L453.04,402.93 L453.93,400.10 L454.82,397.31 L455.70,394.58 L456.59,391.89 L457.48,389.25 L458.37,386.66 L459.26,384.13 L460.14,381.65 L461.03,379.22 L461.92,376.85 L462.81,374.53 L463.70,372.27 L464.58,370.06 L465.47,367.92 L466.36,365.83 L467.25,363.81 L468.14,361.84 L469.02,359.94 L469.91,358.10 L470.80,356.32 L471.69,354.60 L472.58,352.96 L473.46,351.37 L474.35,349.85 L475.24,348.40 L476.13,347.02 L477.02,345.70 L477.90,344.45 L478.79,343.27 L479.68,342.16 L480.57,341.12 L481.46,340.15 L482.34,339.25 L483.23,338.42 L484.12,337.66 L485.01,336.97 L485.90,336.36 L486.78,335.81 L487.67,335.34 L488.56,334.94 L489.45,334.61 L490.34,334.36 L491.22,334.18 L492.11,334.07 L493.00,334.03 L493.89,334.07 L494.78,334.18 L495.66,334.36 L496.55,334.61 L497.44,334.94 L498.33,335.34 L499.22,335.81 L500.10,336.36 L500.99,336.97 L501.88,337.66 L502.77,338.42 L503.66,339.25 L504.54,340.15 L505.43,341.12 L506.32,342.16 L507.21,343.27 L508.10,344.45 L508.98,345.70 L509.87,347.02 L510.76,348.40 L511.65,349.85 L512.54,351.37 L513.42,352.96 L514.31,354.60 L515.20,356.32 L516.09,358.10 L516.98,359.94 L517.86,361.84 L518.75,363.81 L519.64,365.83 L520.53,367.92 L521.42,370.06 L522.30,372.27 L523.19,374.53 L524.08,376.85 L524.97,379.22 L525.86,381.65 L526.74,384.13 L527.63,386.66 L528.52,389.25 L529.41,391.89 L530.30,394.58 L531.18,397.31 L532.07,400.10 L532.96,402.93 L533.85,405.80 L534.74,408.72 L535.62,411.68 L536.51,414.69 L537.40,417.73 L538.29,420.82 L539.18,423.94 L540.06,427.10 L540.95,430.29 L541.84,433.52 L542.73,436.79 L543.62,440.08 L544.50,443.41 L545.39,446.76 L546.28,450.14 L547.17,453.55 L548.06,456.99 L548.94,460.45 L549.83,463.93 L550.72,467.43 L551.61,470.96 L552.50,474.50 L553.38,478.06 L554.27,481.63 L555.16,485.22 L556.05,488.82 L556.94,492.44 L557.82,496.06 L558.71,499.69 L559.60,503.33 L560.49,506.98 L561.38,510.63 L562.26,514.29 L563.15,517.95 L564.04,521.60 L564.93,525.26 L565.82,528.92 L566.70,532.57 L567.59,536.22 L568.48,539.86 L569.37,543.50 L570.26,547.13 L571.14,550.74 L572.03,554.35 L572.92,557.95 L573.81,561.53 L574.70,565.10 L575.58,568.65 L576.47,572.18 L577.36,575.70 L578.25,579.20 L579.14,582.67 L580.02,586.13 L580.91,589.56 L581.80,592.97 L582.69,596.36 L583.58,599.72 L584.46,603.06 L585.35,606.36 L586.24,609.64 L587.13,612.90 L588.02,616.12 L588.90,619.31 L589.79,622.47 L590.68,625.60 L591.57,628.69 L592.46,631.76 L593.34,634.79 L594.23,637.78 L595.12,640.75 L596.01,643.67 L596.90,646.56 L597.78,649.42 L598.67,652.24 L599.56,655.02 L600.45,657.77 L601.34,660.48 L602.22,663.16 L603.11,665.80 L604.00,668.40 L604.89,670.96 L605.78,673.49 L606.66,675.99 L607.55,678.45 L608.44,680.87 L609.33,683.26 L610.22,685.61 L611.10,687.94 L611.99,690.22 L612.88,692.48 L613.77,694.70 L614.66,696.90 L615.54,699.06 L616.43,701.20 L617.32,703.31 L618.21,705.39 L619.10,707.45 L619.98,709.48 L620.87,711.50 L621.76,713.49 L622.65,715.46 L623.54,717.42 L624.42,719.36 L625.31,721.29 L626.20,723.20 L627.09,725.11 L627.98,727.01 L628.86,728.91 L629.75,730.80 L630.64,732.70 L631.53,734.60 L632.42,736.50 L633.30,738.41 L634.19,740.34 L635.08,742.27 L635.97,744.23 L636.86,746.21 L637.74,748.21 L638.63,750.25 L639.52,752.31 L640.41,754.41 L641.30,756.55 L642.18,758.74 L643.07,760.97 L643.96,763.26 L644.85,765.60 L645.74,768.01 L646.62,770.48 L647.51,773.03 L648.40,775.65 L649.29,778.35 L650.18,781.14 L651.06,784.03 L651.95,787.01 L652.59,789.21" stroke="#7c4d22"/>
<path d="M271.49,66.28 L272.37,84.93 L273.26,103.09 L274.14,120.77 L275.03,137.99 L275.91,154.75 L276.79,171.06 L277.68,186.95 L278.56,202.42 L279.45,217.49 L280.33,232.16 L281.22,246.44 L282.10,260.35 L282.98,273.90 L283.87,287.10 L284.75,299.96 L285.64,312.48 L286.52,324.67 L287.41,336.55 L288.29,348.13 L289.17,359.40 L290.06,370.38 L290.94,381.08 L291.83,391.50 L292.71,401.66 L293.60,411.55 L294.48,421.19 L295.36,430.58 L296.25,439.72 L297.13,448.63 L298.02,457.31 L298.90,465.77 L299.79,474.01 L300.67,482.03 L301.55,489.85 L302.44,497.46 L303.32,504.87 L304.21,512.09 L305.09,519.12 L305.98,525.96 L306.86,532.62 L307.74,539.10 L308.63,545.41 L309.51,551.55 L310.40,557.53 L311.28,563.34 L312.17,568.99 L313.05,574.48 L313.93,579.82 L314.82,585.01 L315.70,590.06 L316.59,594.95 L317.47,599.71 L318.36,604.32 L319.24,608.80 L320.12,613.14 L321.01,617.35 L321.89,621.43 L322.78,625.38 L323.66,629.20 L324.55,632.89 L325.43,636.47 L326.31,639.92 L327.20,643.25 L328.08,646.47 L328.97,649.56 L329.85,652.55 L330.74,655.41 L331.62,658.17 L332.50,660.82 L333.39,663.35 L334.27,665.78 L335.16,668.10 L336.04,670.31 L336.92,672.42 L337.81,674.43 L338.69,676.33 L339.58,678.13 L340.46,679.83 L341.35,681.43 L342.23,682.93 L343.11,684.34 L344.00,685.65 L344.88,686.86 L345.77,687.97 L346.65,689.00 L347.54,689.92 L348.42,690.76 L349.30,691.50 L350.19,692.15 L351.07,692.72 L351.96,693.19 L352.84,693.57 L353.73,693.87 L354.61,694.08 L355.49,694.20 L356.38,694.23 L357.26,694.18 L358.15,694.05 L359.03,693.83 L359.92,693.53 L360.80,693.15 L361.68,692.69 L362.57,692.14 L363.45,691.52 L364.34,690.82 L365.22,690.04 L366.11,689.18 L366.99,688.25 L367.87,687.23 L368.76,686.15 L369.64,684.99 L370.53,683.76 L371.41,682.45 L372.30,681.07 L373.18,679.63 L374.06,678.11 L374.95,676.52 L375.83,674.87 L376.72,673.14 L377.60,671.35 L378.49,669.50 L379.37,667.58 L380.25,665.60 L381.14,663.56 L382.02,661.45 L382.91,659.29 L383.79,657.06 L384.68,654.78 L385.56,652.44 L386.44,650.04 L387.33,647.59 L388.21,645.08 L389.10,642.52 L389.98,639.91 L390.87,637.25 L391.75,634.54 L392.63,631.78 L393.52,628.98 L394.40,626.12 L395.29,623.23 L396.17,620.29 L397.06,617.31 L397.94,614.28 L398.82,611.22 L399.71,608.12 L400.59,604.98 L401.48,601.80 L402.36,598.60 L403.25,595.35 L404.13,592.08 L405.01,588.77 L405.90,585.44 L406.78,582.08 L407.67,578.69 L408.55,575.27 L409.44,571.84 L410.32,568.38 L411.20,564.90 L412.09,561.40 L412.97,557.88 L413.86,554.34 L414.74,550.79 L415.63,547.23 L416.51,543.65 L417.39,540.06 L418.28,536.46 L419.16,532.86 L420.05,529.24 L420.93,525.62 L421.82,522.00 L422.70,518.38 L423.58,514.75 L424.47,511.13 L425.35,507.50 L426.24,503.88 L427.12,500.27 L428.01,496.66 L428.89,493.06 L429.77,489.47 L430.66,485.89 L431.54,482.32 L432.43,478.76 L433.31,475.22 L434.20,471.69 L435.08,468.19 L435.96,464.70 L436.85,461.23 L437.73,457.78 L438.62,454.36 L439.50,450.96 L440.39,447.59 L441.27,444.24 L442.15,440.93 L443.04,437.64 L443.92,434.38 L444.81,431.16 L445.69,427.97 L446.58,424.81 L447.46,421.69 L448.34,418.61 L449.23,415.57 L450.11,412.57 L451.00,409.60 L451.88,406.68 L452.77,403.81 L453.65,400.98 L454.53,398.19 L455.42,395.45 L456.30,392.76 L457.19,390.12 L458.07,387.52 L458.96,384.98 L459.84,382.49 L460.72,380.06 L461.61,377.67 L462.49,375.34 L463.38,373.07 L464.26,370.86 L465.15,368.70 L466.03,366.60 L466.91,364.56 L467.80,362.58 L468.68,360.66 L469.57,358.80 L470.45,357.01 L471.34,355.28 L472.22,353.61 L473.10,352.01 L473.99,350.47 L474.87,349.00 L475.76,347.59 L476.64,346.25 L477.53,344.98 L478.41,343.77 L479.29,342.64 L480.18,341.57 L481.06,340.57 L481.95,339.64 L482.83,338.78 L483.72,338.00 L484.60,337.28 L485.48,336.63 L486.37,336.06 L487.25,335.55 L488.14,335.12 L489.02,334.76 L489.91,334.47 L490.79,334.26 L491.67,334.11 L492.56,334.04 L493.44,334.04 L494.33,334.11 L495.21,334.26 L496.09,334.47 L496.98,334.76 L497.86,335.12 L498.75,335.55 L499.63,336.06 L500.52,336.63 L501.40,337.28 L502.28,338.00 L503.17,338.78 L504.05,339.64 L504.94,340.57 L505.82,341.57 L506.71,342.64 L507.59,343.77 L508.47,344.98 L509.36,346.25 L510.24,347.59 L511.13,349.00 L512.01,350.47 L512.90,352.01 L513.78,353.61 L514.66,355.28 L515.55,357.01 L516.43,358.80 L517.32,360.66 L518.20,362.58 L519.09,364.56 L519.97,366.60 L520.85,368.70 L521.74,370.86 L522.62,373.07 L523.51,375.34 L524.39,377.67 L525.28,380.06 L526.16,382.49 L527.04,384.98 L527.93,387.52 L528.81,390.12 L529.70,392.76 L530.58,395.45 L531.47,398.19 L532.35,400.98 L533.23,403.81 L534.12,406.68 L535.00,409.60 L535.89,412.57 L536.77,415.57 L537.66,418.61 L538.54,421.69 L539.42,424.81 L540.31,427.97 L541.19,431.16 L542.08,434.38 L542.96,437.64 L543.85,440.93 L544.73,444.24 L545.61,447.59 L546.50,450.96 L547.38,454.36 L548.27,457.78 L549.15,461.23 L550.04,464.70 L550.92,468.19 L551.80,471.69 L552.69,475.22 L553.57,478.76 L554.46,482.32 L555.34,485.89 L556.23,489.47 L557.11,493.06 L557.99,496.66 L558.88,500.27 L559.76,503.88 L560.65,507.50 L561.53,511.13 L562.42,514.75 L563.30,518.38 L564.18,522.00 L565.07,525.62 L565.95,529.24 L566.84,532.86 L567.72,536.46 L568.61,540.06 L569.49,543.65 L570.37,547.23 L571.26,550.79 L572.14,554.34 L573.03,557.88 L573.91,561.40 L574.80,564.90 L575.68,568.38 L576.56,571.84 L577.45,575.27 L578.33,578.69 L579.22,582.08 L580.10,585.44 L580.99,588.77 L581.87,592.08 L582.75,595.35 L583.64,598.60 L584.52,601.80 L585.41,604.98 L586.29,608.12 L587.18,611.22 L588.06,614.28 L588.94,617.31 L589.83,620.29 L590.71,623.23 L591.60,626.12 L592.48,628.98 L593.37,631.78 L594.25,634.54 L595.13,637.25 L596.02,639.91 L596.90,642.52 L597.79,645.08 L598.67,647.59 L599.56,650.04 L600.44,652.44 L601.32,654.78 L602.21,657.06 L603.09,659.29 L603.98,661.45 L604.86,663.56 L605.75,665.60 L606.63,667.58 L607.51,669.50 L608.40,671.35 L609.28,673.14 L610.17,674.87 L611.05,676.52 L611.94,678.11 L612.82,679.63 L613.70,681.07 L614.59,682.45 L615.47,683.76 L616.36,684.99 L617.24,686.15 L618.13,687.23 L619.01,688.25 L619.89,689.18 L620.78,690.04 L621.66,690.82 L622.55,691.52 L623.43,692.14 L624.32,692.69 L625.20,693.15 L626.08,693.53 L626.97,693.83 L627.85,694.05 L628.74,694.18 L629.62,694.23 L630.51,694.20 L631.39,694.08 L632.27,693.87 L633.16,693.57 L634.04,693.19 L634.93,692.72 L635.81,692.15 L636.70,691.50 L637.58,690.76 L638.46,689.92 L639.35,689.00 L640.23,687.97 L641.12,686.86 L642.00,685.65 L642.89,684.34 L643.77,682.93 L644.65,681.43 L645.54,679.83 L646.42,678.13 L647.31,676.33 L648.19,674.43 L649.08,672.42 L649.96,670.31 L650.84,668.10 L651.73,665.78 L652.61,663.35 L653.50,660.82 L654.38,658.17 L655.26,655.41 L656.15,652.55 L657.03,649.56 L657.92,646.47 L658.80,643.25 L659.69,639.92 L660.57,636.47 L661.45,632.89 L662.34,629.20 L663.22,625.38 L664.11,621.43 L664.99,617.35 L665.88,613.14 L666.76,608.80 L667.64,604.32 L668.53,599.71 L669.41,594.95 L670.30,590.06 L671.18,585.01 L672.07,579.82 L672.95,574.48 L673.83,568.99 L674.72,563.34 L675.60,557.53 L676.49,551.55 L677.37,545.41 L678.26,539.10 L679.14,532.62 L680.02,525.96 L680.91,519.12 L681.79,512.09 L682.68,504.87 L683.56,497.46 L684.45,489.85 L685.33,482.03 L686.21,474.01 L687.10,465.77 L687.98,457.31 L688.87,448.63 L689.75,439.72 L690.64,430.58 L691.52,421.19 L692.40,411.55 L693.29,401.66 L694.17,391.50 L695.06,381.08 L695.94,370.38 L696.83,359.40 L697.71,348.13 L698.59,336.55 L699.48,324.67 L700.36,312.48 L701.25,299.96 L702.13,287.10 L703.02,273.90 L703.90,260.35 L704.78,246.44 L705.67,232.16 L706.55,217.49 L707.44,202.42 L708.32,186.95 L709.21,171.06 L710.09,154.75 L710.97,137.99 L711.86,120.77 L712.74,103.09 L713.63,84.93 L714.51,66.28" stroke="#93249a"/>
<path d="M236.98,789.21 L237.26,784.43 L238.14,769.33 L239.03,754.92 L239.92,741.15 L240.81,728.03 L241.70,715.52 L242.58,703.61 L243.47,692.28 L244.36,681.51 L245.25,671.28 L246.14,661.58 L247.02,652.38 L247.91,643.68 L248.80,635.45 L249.69,627.68 L250.58,620.36 L251.46,613.47 L252.35,607.00 L253.24,600.93 L254.13,595.25 L255.02,589.94 L255.90,585.00 L256.79,580.41 L257.68,576.16 L258.57,572.23 L259.46,568.62 L260.34,565.32 L261.23,562.31 L262.12,559.58 L263.01,557.12 L263.90,554.93 L264.78,552.99 L265.67,551.29 L266.56,549.83 L267.45,548.59 L268.34,547.57 L269.22,546.76 L270.11,546.15 L271.00,545.73 L271.89,545.50 L272.78,545.44 L273.66,545.55 L274.55,545.82 L275.44,546.25 L276.33,546.82 L277.22,547.54 L278.10,548.39 L278.99,549.37 L279.88,550.47 L280.77,551.69 L281.66,553.02 L282.54,554.46 L283.43,555.99 L284.32,557.62 L285.21,559.34 L286.10,561.14 L286.98,563.02 L287.87,564.97 L288.76,567.00 L289.65,569.09 L290.54,571.24 L291.42,573.44 L292.31,575.70 L293.20,578.00 L294.09,580.35 L294.98,582.74 L295.86,585.16 L296.75,587.62 L297.64,590.10 L298.53,592.61 L299.42,595.14 L300.30,597.69 L301.19,600.26 L302.08,602.83 L302.97,605.42 L303.86,608.01 L304.74,610.60 L305.63,613.19 L306.52,615.78 L307.41,618.37 L308.30,620.94 L309.18,623.51 L310.07,626.06 L310.96,628.60 L311.85,631.11 L312.74,633.61 L313.62,636.09 L314.51,638.54 L315.40,640.96 L316.29,643.36 L317.18,645.72 L318.06,648.05 L318.95,650.35 L319.84,652.61 L320.73,654.83 L321.62,657.01 L322.50,659.15 L323.39,661.25 L324.28,663.30 L325.17,665.31 L326.06,667.26 L326.94,669.17 L327.83,671.03 L328.72,672.84 L329.61,674.59 L330.50,676.29 L331.38,677.93 L332.27,679.52 L333.16,681.05 L334.05,682.52 L334.94,683.94 L335.82,685.29 L336.71,686.58 L337.60,687.80 L338.49,688.97 L339.38,690.07 L340.26,691.10 L341.15,692.07 L342.04,692.98 L342.93,693.81 L343.82,694.59 L344.70,695.29 L345.59,695.92 L346.48,696.49 L347.37,696.98 L348.26,697.41 L349.14,697.77 L350.03,698.06 L350.92,698.27 L351.81,698.42 L352.70,698.50 L353.58,698.50 L354.47,698.43 L355.36,698.30 L356.25,698.09 L357.14,697.81 L358.02,697.46 L358.91,697.03 L359.80,696.54 L360.69,695.98 L361.58,695.34 L362.46,694.63 L363.35,693.86 L364.24,693.01 L365.13,692.09 L366.02,691.11 L366.90,690.05 L367.79,688.93 L368.68,687.74 L369.57,686.47 L370.46,685.15 L371.34,683.75 L372.23,682.29 L373.12,680.76 L374.01,679.17 L374.90,677.51 L375.78,675.78 L376.67,674.00 L377.56,672.15 L378.45,670.24 L379.34,668.26 L380.22,666.23 L381.11,664.14 L382.00,661.99 L382.89,659.78 L383.78,657.51 L384.66,655.18 L385.55,652.80 L386.44,650.37 L387.33,647.88 L388.22,645.34 L389.10,642.75 L389.99,640.11 L390.88,637.42 L391.77,634.68 L392.66,631.89 L393.54,629.06 L394.43,626.18 L395.32,623.25 L396.21,620.29 L397.10,617.28 L397.98,614.23 L398.87,611.15 L399.76,608.02 L400.65,604.86 L401.54,601.66 L402.42,598.43 L403.31,595.17 L404.20,591.87 L405.09,588.54 L405.98,585.19 L406.86,581.81 L407.75,578.40 L408.64,574.96 L409.53,571.50 L410.42,568.03 L411.30,564.52 L412.19,561.00 L413.08,557.47 L413.97,553.91 L414.86,550.34 L415.74,546.76 L416.63,543.17 L417.52,539.56 L418.41,535.94 L419.30,532.32 L420.18,528.69 L421.07,525.06 L421.96,521.42 L422.85,517.78 L423.74,514.13 L424.62,510.49 L425.51,506.86 L426.40,503.22 L427.29,499.59 L428.18,495.97 L429.06,492.35 L429.95,488.75 L430.84,485.15 L431.73,481.57 L432.62,478.00 L433.50,474.45 L434.39,470.91 L435.28,467.40 L436.17,463.90 L437.06,460.42 L437.94,456.96 L438.83,453.53 L439.72,450.13 L440.61,446.75 L441.50,443.39 L442.38,440.07 L443.27,436.78 L444.16,433.51 L445.05,430.29 L445.94,427.09 L446.82,423.93 L447.71,420.81 L448.60,417.73 L449.49,414.68 L450.38,411.68 L451.26,408.72 L452.15,405.80 L453.04,402.92 L453.93,400.09 L454.82,397.31 L455.70,394.58 L456.59,391.89 L457.48,389.25 L458.37,386.66 L459.26,384.13 L460.14,381.65 L461.03,379.22 L461.92,376.85 L462.81,374.53 L463.70,372.27 L464.58,370.06 L465.47,367.92 L466.36,365.83 L467.25,363.81 L468.14,361.84 L469.02,359.94 L469.91,358.10 L470.80,356.32 L471.69,354.60 L472.58,352.96 L473.46,351.37 L474.35,349.85 L475.24,348.40 L476.13,347.02 L477.02,345.70 L477.90,344.45 L478.79,343.27 L479.68,342.16 L480.57,341.12 L481.46,340.15 L482.34,339.25 L483.23,338.42 L484.12,337.66 L485.01,336.97 L485.90,336.36 L486.78,335.81 L487.67,335.34 L488.56,334.94 L489.45,334.61 L490.34,334.36 L491.22,334.18 L492.11,334.07 L493.00,334.03 L493.89,334.07 L494.78,334.18 L495.66,334.36 L496.55,334.61 L497.44,334.94 L498.33,335.34 L499.22,335.81 L500.10,336.36 L500.99,336.97 L501.88,337.66 L502.77,338.42 L503.66,339.25 L504.54,340.15 L505.43,341.12 L506.32,342.16 L507.21,343.27 L508.10,344.45 L508.98,345.70 L509.87,347.02 L510.76,348.40 L511.65,349.85 L512.54,351.37 L513.42,352.96 L514.31,354.60 L515.20,356.32 L516.09,358.10 L516.98,359.94 L517.86,361.84 L518.75,363.81 L519.64,365.83 L520.53,367.92 L521.42,370.06 L522.30,372.27 L523.19,374.53 L524.08,376.85 L524.97,379.22 L525.86,381.65 L526.74,384.13 L527.63,386.66 L528.52,389.25 L529.41,391.89 L530.30,394.58 L531.18,397.31 L532.07,400.09 L532.96,402.92 L533.85,405.80 L534.74,408.72 L535.62,411.68 L536.51,414.68 L537.40,417.73 L538.29,420.81 L539.18,423.93 L540.06,427.09 L540.95,430.29 L541.84,433.51 L542.73,436.78 L543.62,440.07 L544.50,443.39 L545.39,446.75 L546.28,450.13 L547.17,453.53 L548.06,456.96 L548.94,460.42 L549.83,463.90 L550.72,467.40 L551.61,470.91 L552.50,474.45 L553.38,478.00 L554.27,481.57 L555.16,485.15 L556.05,488.75 L556.94,492.35 L557.82,495.97 L558.71,499.59 L559.60,503.22 L560.49,506.86 L561.38,510.49 L562.26,514.13 L563.15,517.78 L564.04,521.42 L564.93,525.06 L565.82,528.69 L566.70,532.32 L567.59,535.94 L568.48,539.56 L569.37,543.17 L570.26,546.76 L571.14,550.34 L572.03,553.91 L572.92,557.47 L573.81,561.00 L574.70,564.52 L575.58,568.03 L576.47,571.50 L577.36,574.96 L578.25,578.40 L579.14,581.81 L580.02,585.19 L580.91,588.54 L581.80,591.87 L582.69,595.17 L583.58,598.43 L584.46,601.66 L585.35,604.86 L586.24,608.02 L587.13,611.15 L588.02,614.23 L588.90,617.28 L589.79,620.29 L590.68,623.25 L591.57,626.18 L592.46,629.06 L593.34,631.89 L594.23,634.68 L595.12,637.42 L596.01,640.11 L596.90,642.75 L597.78,645.34 L598.67,647.88 L599.56,650.37 L600.45,652.80 L601.34,655.18 L602.22,657.51 L603.11,659.78 L604.00,661.99 L604.89,664.14 L605.78,666.23 L606.66,668.26 L607.55,670.24 L608.44,672.15 L609.33,674.00 L610.22,675.78 L611.10,677.51 L611.99,679.17 L612.88,680.76 L613.77,682.29 L614.66,683.75 L615.54,685.15 L616.43,686.47 L617.32,687.74 L618.21,688.93 L619.10,690.05 L619.98,691.11 L620.87,692.09 L621.76,693.01 L622.65,693.86 L623.54,694.63 L624.42,695.34 L625.31,695.98 L626.20,696.54 L627.09,697.03 L627.98,697.46 L628.86,697.81 L629.75,698.09 L630.64,698.30 L631.53,698.43 L632.42,698.50 L633.30,698.50 L634.19,698.42 L635.08,698.27 L635.97,698.06 L636.86,697.77 L637.74,697.41 L638.63,696.98 L639.52,696.49 L640.41,695.92 L641.30,695.29 L642.18,694.59 L643.07,693.81 L643.96,692.98 L644.85,692.07 L645.74,691.10 L646.62,690.07 L647.51,688.97 L648.40,687.80 L649.29,686.58 L650.18,685.29 L651.06,683.94 L651.95,682.52 L652.84,681.05 L653.73,679.52 L654.62,677.93 L655.50,676.29 L656.39,674.59 L657.28,672.84 L658.17,671.03 L659.06,669.17 L659.94,667.26 L660.83,665.31 L661.72,663.30 L662.61,661.25 L663.50,659.15 L664.38,657.01 L665.27,654.83 L666.16,652.61 L667.05,650.35 L667.94,648.05 L668.82,645.72 L669.71,643.36 L670.60,640.96 L671.49,638.54 L672.38,636.09 L673.26,633.61 L674.15,631.11 L675.04,628.60 L675.93,626.06 L676.82,623.51 L677.70,620.94 L678.59,618.37 L679.48,615.78 L680.37,613.19 L681.26,610.60 L682.14,608.01 L683.03,605.42 L683.92,602.83 L684.81,600.26 L685.70,597.69 L686.58,595.14 L687.47,592.61 L688.36,590.10 L689.25,587.62 L690.14,585.16 L691.02,582.74 L691.91,580.35 L692.80,578.00 L693.69,575.70 L694.58,573.44 L695.46,571.24 L696.35,569.09 L697.24,567.00 L698.13,564.97 L699.02,563.02 L699.90,561.14 L700.79,559.34 L701.68,557.62 L702.57,555.99 L703.46,554.46 L704.34,553.02 L705.23,551.69 L706.12,550.47 L707.01,549.37 L707.90,548.39 L708.78,547.54 L709.67,546.82 L710.56,546.25 L711.45,545.82 L712.34,545.55 L713.22,545.44 L714.11,545.50 L715.00,545.73 L715.89,546.15 L716.78,546.76 L717.66,547.57 L718.55,548.59 L719.44,549.83 L720.33,551.29 L721.22,552.99 L722.10,554.93 L722.99,557.12 L723.88,559.58 L724.77,562.31 L725.66,565.32 L726.54,568.62 L727.43,572.23 L728.32,576.16 L729.21,580.41 L730.10,585.00 L730.98,589.94 L731.87,595.25 L732.76,600.93 L733.65,607.00 L734.54,613.47 L735.42,620.36 L736.31,627.68 L737.20,635.45 L738.09,643.68 L738.98,652.38 L739.86,661.58 L740.75,671.28 L741.64,681.51 L742.53,692.28 L743.42,703.61 L744.30,715.52 L745.19,728.03 L746.08,741.15 L746.97,754.92 L747.86,769.33 L748.74,784.43 L749.02,789.21" stroke="#0e964a"/>
</g>
<g stroke="#000" fill="none">
<path d="M49.1,791.0999999999999 L49.1,18" stroke-width="3.6"/>
<path d="M47.300000000000004,789.3 L973,789.3" stroke-width="3.6"/>
</g>
<path d="M49.1,0.2 L59.5,24 L49.1,19.5 L38.7,24 Z" fill="#000"/>
<path d="M994.6,789.3 L970,779.0999999999999 L974.5,789.3 L970,799.5 Z" fill="#000"/>
<path d="M492.8,37.6 L492.8,789.3" stroke="#1a1a1a" stroke-width="2" stroke-dasharray="10 6.53" stroke-dashoffset="1.4" fill="none"/>
<path d="M48.7,516.2 L966.1,516.2" stroke="#1a1a1a" stroke-width="2" stroke-dasharray="10.1 6.44" fill="none"/>
<g font-family="'Liberation Serif', serif" font-weight="bold" font-size="25.5px" fill="#000" stroke="#000" stroke-width="0.75" stroke-linejoin="round" filter="url(#ga)">
<text x="37.5" y="69.4" text-anchor="end">2.5</text>
<text x="36.2" y="160.0" text-anchor="end">2</text>
<text x="37.6" y="251.0" text-anchor="end">1.5</text>
<text x="35.8" y="342.0" text-anchor="end">1</text>
<text x="37.5" y="433.1" text-anchor="end">0.5</text>
<text x="36.8" y="524.1" text-anchor="end">0</text>
<text x="39" y="615.1" text-anchor="end">-0.5</text>
<text x="38.3" y="706.2" text-anchor="end">-1</text>
<text x="38" y="797.2" text-anchor="end">-1.5</text>
<text x="51.5" y="828.4" text-anchor="middle">-10</text>
<text x="272.9" y="828.4" text-anchor="middle">-5</text>
<text x="493.7" y="828.4" text-anchor="middle">0</text>
<text x="715.6" y="828.4" text-anchor="middle">5</text>
<text x="938.0" y="828.4" text-anchor="middle">10</text>
</g>
<rect x="327.6" y="858.4" width="348.4" height="140.2" fill="#e5e5e5" stroke="#000" stroke-width="2.2"/>
<g fill="none" stroke-width="2.45">
<path d="M416,881.1 L488,881.1" stroke="#ff0d0d"/>
<path d="M416,911.7 L488,911.7" stroke="#0000ff"/>
<path d="M416,941.1 L488,941.1" stroke="#a0076b"/>
<path d="M580.4,881 L652.4,881" stroke="#7c4d22"/>
<path d="M580.4,910.6 L652.4,910.6" stroke="#93249a"/>
<path d="M580.4,941.2 L652.4,941.2" stroke="#0e964a"/>
<path d="M522,975.8 L593.7,975.8" stroke="#ff00ff"/>
</g>
<g font-family="'Liberation Serif', serif" fill="#000" stroke="#000" stroke-width="0.3" filter="url(#ga)">
<text x="349.2" y="883.9" font-size="21.8px" textLength="50.3" lengthAdjust="spacingAndGlyphs">cos(x)</text>
<text x="360" y="915.5" font-size="21.8px" textLength="44" lengthAdjust="spacingAndGlyphs">p<tspan font-size="15px" dy="5.5">0</tspan><tspan dy="-5.5">(x)</tspan></text>
<text x="360" y="945.5" font-size="21.8px" textLength="44" lengthAdjust="spacingAndGlyphs">p<tspan font-size="15px" dy="5.5">1</tspan><tspan dy="-5.5">(x)</tspan></text>
<text x="522" y="881.3" font-size="21.8px" textLength="44" lengthAdjust="spacingAndGlyphs">p<tspan font-size="15px" dy="5.5">3</tspan><tspan dy="-5.5">(x)</tspan></text>
<text x="522" y="912.2" font-size="21.8px" textLength="44" lengthAdjust="spacingAndGlyphs">p<tspan font-size="15px" dy="5.5">4</tspan><tspan dy="-5.5">(x)</tspan></text>
<text x="522" y="942.8" font-size="21.8px" textLength="44" lengthAdjust="spacingAndGlyphs">p<tspan font-size="15px" dy="5.5">5</tspan><tspan dy="-5.5">(x)</tspan></text>
<text x="457" y="976.5" font-size="21.8px" font-weight="bold" textLength="44.5" lengthAdjust="spacingAndGlyphs">p<tspan font-size="15px" dy="5.5">2</tspan><tspan dy="-5.5">(x)</tspan></text>
</g>
<text transform="translate(29.8,984.6) rotate(-90)" font-family="'Liberation Sans', sans-serif" font-size="20.4px" fill="#fff" stroke="#fff" stroke-width="3" opacity="0.5" filter="url(#glow)"><tspan x="0" textLength="106.4" lengthAdjust="spacingAndGlyphs">Adobe Stock</tspan><tspan x="109.6">|</tspan><tspan x="121.8" textLength="106.5" lengthAdjust="spacingAndGlyphs">#684364080</tspan></text>
<text transform="translate(29.8,984.6) rotate(-90)" font-family="'Liberation Sans', sans-serif" font-size="20.4px" fill="#3a3a3a" stroke="#3a3a3a" stroke-width="0.6" filter="url(#ga)"><tspan x="0" textLength="106.4" lengthAdjust="spacingAndGlyphs">Adobe Stock</tspan><tspan x="109.6">|</tspan><tspan x="121.8" textLength="106.5" lengthAdjust="spacingAndGlyphs">#684364080</tspan></text>
<use href="#wmt" filter="url(#wm)"/>
<use href="#wmt" opacity="0.14"/>
</svg>
</body></html>
